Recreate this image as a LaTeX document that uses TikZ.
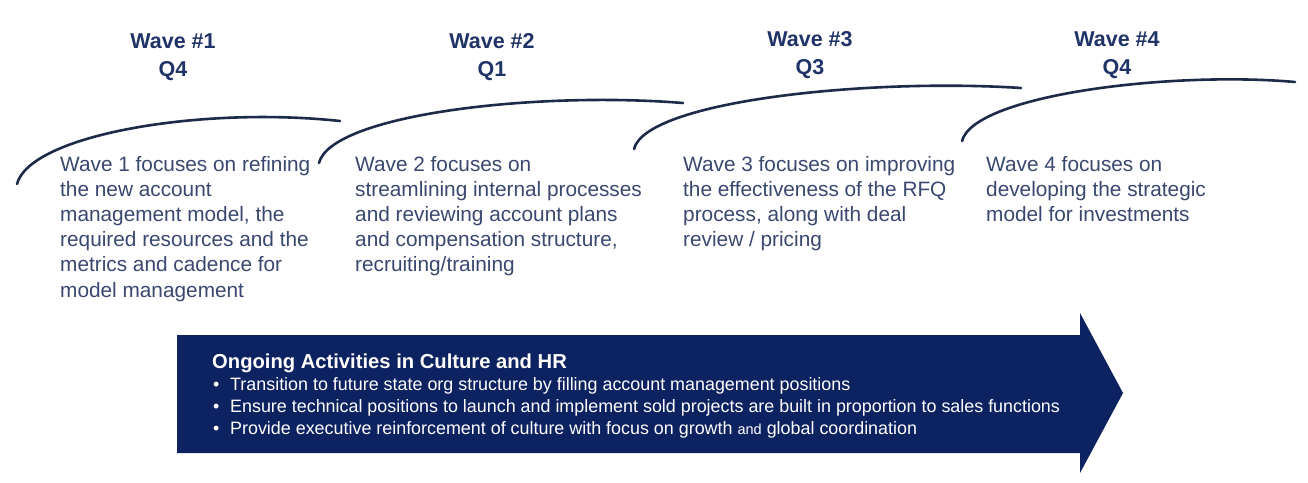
\documentclass[tikz,border=0pt]{standalone}
\usepackage{fontspec}
\setmainfont{Liberation Sans}
\definecolor{navy}{HTML}{0D2260}
\definecolor{titleblue}{HTML}{1F3368}
\definecolor{bodytext}{HTML}{3A4870}
\definecolor{arcline}{HTML}{1E2A4A}
\begin{document}
\begin{tikzpicture}[x=1pt,y=-1pt,
  wavetitle/.style={font=\fontsize{21.5}{28}\selectfont\bfseries, text=titleblue, align=center, anchor=base, inner sep=0pt},
  wavetext/.style={font=\fontsize{20.8}{25.2}\selectfont, text=bodytext, align=left, anchor=base west, inner sep=0pt},
  wavearc/.style={draw=arcline, line width=2.6pt, line cap=round},
  arrowbody/.style={fill=navy, draw=none},
  arrowhead/.style={font=\fontsize{20.2}{22}\selectfont\bfseries, text=white, anchor=base west, inner sep=0pt},
  arrowitems/.style={font=\fontsize{17.9}{22}\selectfont, text=white, align=left, anchor=base west, inner sep=0pt}]
\useasboundingbox (0,0) rectangle (1308,482);
\fill[white] (0,0) rectangle (1308,482);

% titles (anchor = baseline of last line)
\node[wavetitle] (t1) at (173,76) {Wave \#1\\Q4};
\node[wavetitle] (t2) at (492,76) {Wave \#2\\Q1};
\node[wavetitle] (t3) at (810,74) {Wave \#3\\Q3};
\node[wavetitle] (t4) at (1117,74) {Wave \#4\\Q4};

% arcs
\draw[wavearc] (17,184) .. controls (30,135) and (200,106) .. (340,121);
\draw[wavearc] (319,163) .. controls (331,115) and (533,91) .. (683,103);
\draw[wavearc] (634,149) .. controls (646,101) and (868,78) .. (1021,88);
\draw[wavearc] (962,141) .. controls (974,95) and (1170,71) .. (1295,82);

% descriptions (anchor = baseline of last line)
\node[wavetext] (d1) at (60,297) {Wave 1 focuses on refining\\the new account\\management model, the\\required resources and the\\metrics and cadence for\\model management};
\node[wavetext] (d2) at (355,271.8) {Wave 2 focuses on\\streamlining internal processes\\and reviewing account plans\\and compensation structure,\\recruiting/training};
\node[wavetext] (d3) at (683,246.6) {Wave 3 focuses on improving\\the effectiveness of the RFQ\\process, along with deal\\review / pricing};
\node[wavetext] (d4) at (986,221.4) {Wave 4 focuses on\\developing the strategic\\model for investments};

% big arrow
\path[arrowbody] (177,335) -- (1080,335) -- (1080,313) -- (1123,393) -- (1080,473) -- (1080,453) -- (177,453) -- cycle;
\node[arrowhead] (ah) at (212,368) {Ongoing Activities in Culture and HR};
\node[arrowitems] (ai) at (213,434) {\makebox[17pt][l]{•}Transition to future state org structure by filling account management positions\\
\makebox[17pt][l]{•}Ensure technical positions to launch and implement sold projects are built in proportion to sales functions\\
\makebox[17pt][l]{•}Provide executive reinforcement of culture with focus on growth {\fontsize{14.5}{22}\selectfont and} global coordination};
\end{tikzpicture}
\end{document}
